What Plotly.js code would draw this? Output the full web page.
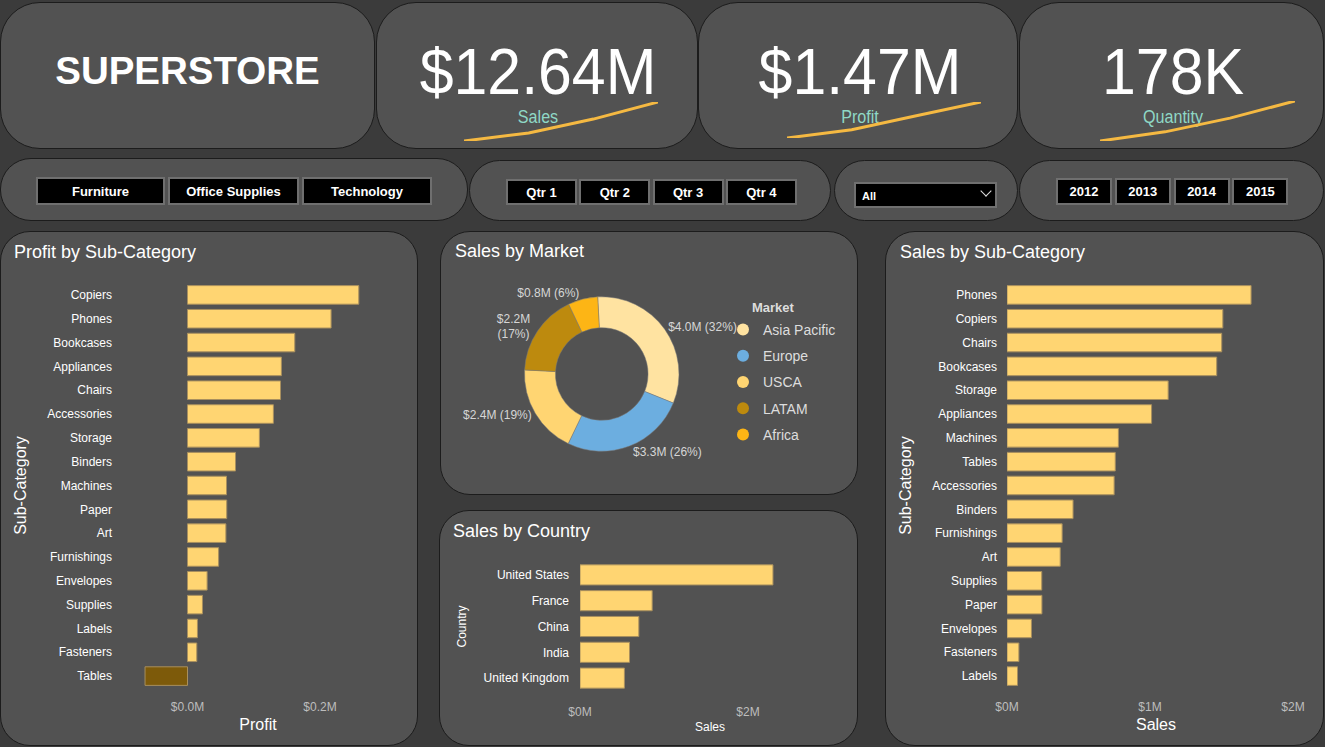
<!DOCTYPE html>
<html><head><meta charset="utf-8">
<script src="https://cdn.plot.ly/plotly-3.0.1.min.js"></script>
<style>
body{margin:0;background:#3b3b3b;width:1325px;height:747px;overflow:hidden;font-family:"Liberation Sans",Arial,sans-serif;position:relative}
.panel{position:absolute;background:#525252;border:1px solid #1c1c1c;box-sizing:border-box}
.chart{position:absolute}
.btn{position:absolute;background:#000;border:2px solid #6f6f6f;box-sizing:border-box;color:#fff;font-weight:bold;font-size:13px;display:flex;align-items:center;justify-content:center;white-space:nowrap}
.kpi{position:absolute;color:#fff;font-size:64px;text-align:center;transform:scaleX(0.95);white-space:nowrap;line-height:54px;height:54px}
.kpisub{position:absolute;color:#8fd8c6;font-size:17.5px;text-align:center;transform:scaleX(0.92);white-space:nowrap;line-height:18px}
</style></head><body>
<div id="root"></div>
<script>
// ---------- DATA ----------
const kpiValues = ['$12.64M', '$1.47M', '178K'];
const kpiLabels = ['Sales', 'Profit', 'Quantity'];
const years = [2012, 2013, 2014, 2015];
const salesByYear = [2259451, 2677439, 3405746, 4299866];
const profitByYear = [248941, 307415, 406935, 504166];
const qtyByYear = [31443, 38111, 48136, 60622];

const categoryButtons = ['Furniture', 'Office Supplies', 'Technology'];
const quarterButtons = ['Qtr 1', 'Qtr 2', 'Qtr 3', 'Qtr 4'];
const yearButtons = ['2012', '2013', '2014', '2015'];
const dropdownValue = 'All';

const subCatProfit = ['Copiers','Phones','Bookcases','Appliances','Chairs','Accessories','Storage','Binders','Machines','Paper','Art','Furnishings','Envelopes','Supplies','Labels','Fasteners','Tables'];
const profitValues = [258568,216717,161924,141681,140396,129626,108461,72449,58868,59207,57954,46968,29601,22584,15010,14026,-64083];
const profitTickVals = [0, 200000];
const profitTickText = ['$0.0M', '$0.2M'];

const subCatSales = ['Phones','Copiers','Chairs','Bookcases','Storage','Appliances','Machines','Tables','Accessories','Binders','Furnishings','Art','Supplies','Paper','Envelopes','Fasteners','Labels'];
const salesValues = [1706824,1509436,1501682,1466572,1127086,1011064,779060,757042,749237,461912,385578,372092,243082,244292,170904,83242,73404];
const salesTickVals = [0, 1000000, 2000000];
const salesTickText = ['$0M', '$1M', '$2M'];

const countries = ['United States','France','China','India','United Kingdom'];
const countrySales = [2297201,858931,700562,589650,528576];
const countryTickVals = [0, 2000000];
const countryTickText = ['$0M', '$2M'];

const markets = ['Asia Pacific','Europe','USCA','LATAM','Africa'];
const marketSales = [4042658,3287336,2364129,2164605,783773];
const marketColors = ['#FFE3A1','#6CAEE0','#FFD572','#BD8A0E','#FDB515'];

// ---------- STYLE ----------
const FONT = '"Liberation Sans", Arial, sans-serif';
const BAR = '#FFD572', BAR_NEG = '#7D5A0A', BAR_LINE = '#a88f5e';
const root = document.getElementById('root');
function el(cls, style, html){const d=document.createElement('div');d.className=cls;Object.assign(d.style,style);if(html!==undefined)d.innerHTML=html;root.appendChild(d);return d;}
function px(v){return v+'px';}
function panel(x,y,w,h,r){return el('panel',{left:px(x),top:px(y),width:px(w),height:px(h),borderRadius:px(r)});}

// panels
panel(0,2,375,147,40); panel(376,2,322,147,40); panel(698,2,320,147,40); panel(1019,2,305,147,40);
panel(0,158,468,63,31); panel(469,160,362,61,31); panel(834,160,184,61,31); panel(1019,160,305,61,31);
panel(0,231,418,515,30); panel(440,231,418,264,30); panel(439,510,419,236,30); panel(885,231,439,515,30);

// title
el('',{position:'absolute',left:'0px',top:'52px',width:'375px',textAlign:'center',color:'#fff',fontWeight:'bold',fontSize:'38.5px',lineHeight:'38px'},'SUPERSTORE');

// KPI texts
const kpiCenters = [538, 860, 1173];
kpiValues.forEach((v,i)=>{
  el('kpi',{left:px(kpiCenters[i]-160),top:'45px',width:'320px'},v);
  el('kpisub',{left:px(kpiCenters[i]-80),top:'108px',width:'160px'},kpiLabels[i]);
});

// buttons
const catX=[36,168,302], catW=[129,131,130];
categoryButtons.forEach((t,i)=>el('btn',{left:px(catX[i]),top:'177px',width:px(catW[i]),height:'28px'},t));
quarterButtons.forEach((t,i)=>el('btn',{left:px(506+i*73.3),top:'179px',width:'71px',height:'26px'},t));
yearButtons.forEach((t,i)=>el('btn',{left:px(1056+i*58.8),top:'178px',width:'56px',height:'27px'},t));
el('btn',{left:'854px',top:'182px',width:'143px',height:'26px',justifyContent:'flex-start',paddingLeft:'6px',paddingTop:'2px',fontSize:'11px'},dropdownValue);
el('',{position:'absolute',left:'982px',top:'187px',width:'7px',height:'7px',borderRight:'1px solid #ddd',borderBottom:'1px solid #ddd',transform:'rotate(45deg)'});

// sparklines
const cfg = {staticPlot:true, displayModeBar:false};
function spark(x,y,w,h,data){
  const d = el('chart',{left:px(x-4),top:px(y-4),width:px(w+8),height:px(h+8)});
  const mn=Math.min(...data), mx=Math.max(...data);
  Plotly.newPlot(d,[{type:'scatter',mode:'lines',x:years,y:data,line:{color:'#F5B942',width:3},hoverinfo:'none'}],
    {width:w+8,height:h+8,margin:{l:4,r:4,t:4,b:4},paper_bgcolor:'rgba(0,0,0,0)',plot_bgcolor:'rgba(0,0,0,0)',
     xaxis:{visible:false,range:[years[0],years[years.length-1]]},yaxis:{visible:false,range:[mn,mx]},showlegend:false},cfg);
}
spark(464,102,194,39,salesByYear);
spark(787,102,194,36,profitByYear);
spark(1100,101,195,40,qtyByYear);

// common axis styling
function xax(range,tv,tt,title,tsize,standoff,lstand){return {range:range,tickvals:tv,ticktext:tt,showgrid:false,zeroline:false,showline:false,ticks:'',
  tickfont:{size:12,color:'#bdbdbd',family:FONT},ticklabelstandoff:lstand,title:{text:title,font:{size:tsize,color:'#fff',family:FONT},standoff:standoff},fixedrange:true};}
function yax(title,tsize,standoff,lstand){return {type:'category',autorange:'reversed',showgrid:false,zeroline:false,showline:false,ticks:'',
  tickfont:{size:12,color:'#fff',family:FONT},ticklabelstandoff:lstand,title:{text:title,font:{size:tsize,color:'#fff',family:FONT},standoff:standoff}};}
function ttl(text,x,y,W,H){return {text:text,x:x/W,xanchor:'left',xref:'container',y:1-y/H,yref:'container',yanchor:'middle',font:{size:18,color:'#fff',family:FONT}};}

// Profit by Sub-Category
(function(){
  const W=417,H=514; const d=el('chart',{left:'0px',top:'231px',width:px(W),height:px(H)});
  Plotly.newPlot(d,[{type:'bar',orientation:'h',y:subCatProfit,x:profitValues,
    marker:{color:profitValues.map(v=>v<0?BAR_NEG:BAR),line:{color:BAR_LINE,width:1}},hoverinfo:'none'}],
  {width:W,height:H,margin:{l:116,r:17,t:52,b:57},paper_bgcolor:'rgba(0,0,0,0)',plot_bgcolor:'rgba(0,0,0,0)',
   font:{family:FONT},title:ttl('Profit by Sub-Category',14,21,W,H),bargap:0.22,showlegend:false,
   xaxis:xax([-107920,320750],profitTickVals,profitTickText,'Profit',16,5,10),
   yaxis:yax('Sub-Category',16,16,3)},cfg);
})();

// Sales by Sub-Category
(function(){
  const W=438,H=514; const d=el('chart',{left:'885px',top:'231px',width:px(W),height:px(H)});
  Plotly.newPlot(d,[{type:'bar',orientation:'h',y:subCatSales,x:salesValues,
    marker:{color:BAR,line:{color:BAR_LINE,width:1}},hoverinfo:'none'}],
  {width:W,height:H,margin:{l:122,r:18,t:52,b:57},paper_bgcolor:'rgba(0,0,0,0)',plot_bgcolor:'rgba(0,0,0,0)',
   font:{family:FONT},title:ttl('Sales by Sub-Category',15,21,W,H),bargap:0.22,showlegend:false,
   xaxis:xax([0,2084000],salesTickVals,salesTickText,'Sales',16,5,10),
   yaxis:yax('Sub-Category',16,16,9)},cfg);
})();

// Sales by Country
(function(){
  const W=418,H=235; const d=el('chart',{left:'439px',top:'510px',width:px(W),height:px(H)});
  Plotly.newPlot(d,[{type:'bar',orientation:'h',y:countries,x:countrySales,
    marker:{color:BAR,line:{color:BAR_LINE,width:1}},hoverinfo:'none'}],
  {width:W,height:H,margin:{l:141,r:17,t:52,b:54},paper_bgcolor:'rgba(0,0,0,0)',plot_bgcolor:'rgba(0,0,0,0)',
   font:{family:FONT},title:ttl('Sales by Country',14,21,W,H),bargap:0.22,showlegend:false,
   xaxis:xax([0,3095000],countryTickVals,countryTickText,'Sales',12,4,12),
   yaxis:yax('Country',12,14,10)},cfg);
})();

// Sales by Market
(function(){
  const W=417,H=263; const d=el('chart',{left:'440px',top:'231px',width:px(W),height:px(H)});
  const text = marketSales.map(v=>'$'+(v/1e6).toFixed(1)+'M');
  const tmpl = markets.map((m,i)=> i===3 ? '%{text}<br>(%{percent:.0%})' : '%{text} (%{percent:.0%})');
  const traces=[{type:'pie',labels:markets,values:marketSales,hole:0.6,sort:false,direction:'clockwise',rotation:-3,
     marker:{colors:marketColors,line:{color:'#7a7a7a',width:0.5}},text:text,texttemplate:tmpl,textposition:'outside',
     textfont:{size:12,color:'#d6d6d6',family:FONT},domain:{x:[0.2026,0.5731],y:[0.1616,0.7510]},showlegend:false,hoverinfo:'none'}];
  markets.forEach((m,i)=>traces.push({type:'scatter',mode:'markers',x:[null],y:[null],name:m,legendgroup:m,
     marker:{symbol:'circle',size:12,color:marketColors[i]},showlegend:true,hoverinfo:'none'}));
  Plotly.newPlot(d,traces,{width:W,height:H,margin:{l:0,r:0,t:0,b:0},paper_bgcolor:'rgba(0,0,0,0)',plot_bgcolor:'rgba(0,0,0,0)',
    font:{family:FONT},title:ttl('Sales by Market',15,20,W,H),
    xaxis:{visible:false},yaxis:{visible:false},
    legend:{x:283/W,y:1-83/H,xanchor:'left',yanchor:'top',font:{size:14,color:'#dddddd',family:FONT},tracegroupgap:5,bgcolor:'rgba(0,0,0,0)'},
    annotations:[{text:'<b>Market</b>',x:310/W,y:1-77/H,xref:'paper',yref:'paper',xanchor:'left',yanchor:'middle',showarrow:false,font:{size:13,color:'#dddddd',family:FONT}}]
  },cfg);
})();
</script>
</body></html>
